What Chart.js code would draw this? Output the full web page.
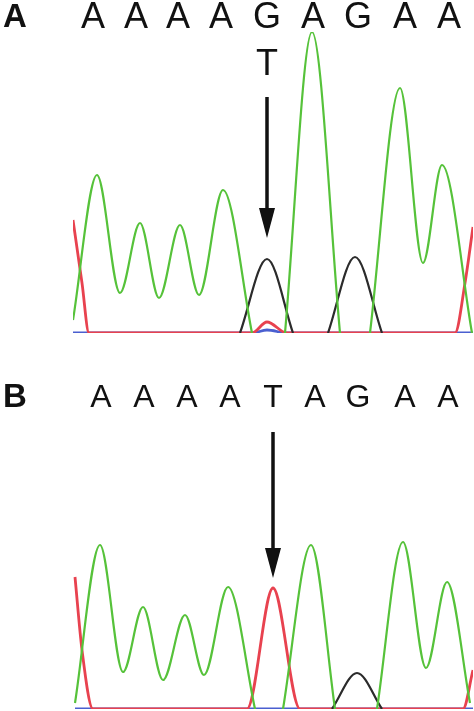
<!DOCTYPE html>
<html>
<head>
<meta charset="utf-8">
<script src="https://cdn.jsdelivr.net/npm/chart.js@4"></script>
<style>
body{margin:0;background:#fff;}
.panel{position:absolute;left:0;width:474px;}
#wrapA{top:0;height:355px;}
#wrapB{top:355px;height:356px;}
</style>
</head>
<body>
<div class="panel" id="wrapA"><canvas id="chartA"></canvas></div>
<div class="panel" id="wrapB"><canvas id="chartB"></canvas></div>
<script>
// panel A - base calls and trace values (scan position / signal)
var basesA = ["A", "A", "A", "A", "G", "A", "G", "A", "A"];
var basePosA = [20, 63, 105, 148, 194, 240, 285, 332, 376];
var greenScanA = [0, 24, 47, 67, 86, 107, 126, 150, 179, 195, 212, 239, 267, 282, 297, 327, 350, 369, 399];
var greenSigA = [13, 158, 40, 110, 35, 108, 38, 143, 0, null, 0, 301, 0, null, 0, 245, 70, 168, 0];
var blackScanA = [167, 194, 220, 240, 255, 282, 309];
var blackSigA = [0, 74, 0, null, 0, 76, 0];
var redScanA = [0, 9, 16, 179, 194, 214, 382, 392, 400];
var redSigA = [113, 50, 0, 0, 11, 0, 0, 50, 106];
var blueScanA = [0, 179, 194, 214, 400];
var blueSigA = [0, 0, 3, 0, 0];

// panel B
var basesB = ["A", "A", "A", "A", "T", "A", "G", "A", "A"];
var basePosB = [28, 71, 114, 157, 200, 242, 285, 332, 375];
var greenScanB = [2, 27, 50, 70, 90, 112, 131, 155, 182, 196, 210, 238, 262, 283, 304, 330, 353, 374, 397];
var greenSigB = [6, 164, 37, 102, 29, 94, 34, 122, 0, null, 0, 164, 0, null, 0, 167, 41, 127, 6];
var blackScanB = [259, 284, 309];
var blackSigB = [0, 36, 0];
var redScanB = [2, 9, 20, 174, 200, 227, 390, 400];
var redSigB = [132, 59, 0, 0, 121, 0, 0, 39];
var blueScanB = [2, 400];
var blueSigB = [0, 0];

function pts(xs, ys) {
  return xs.map(function (x, i) { return {x: x, y: ys[i]}; });
}

function trace(xs, ys, color, w) {
  return {
    data: pts(xs, ys),
    borderColor: color,
    borderWidth: w || 2.2,
    pointRadius: 0,
    cubicInterpolationMode: "monotone",
    spanGaps: false,
    fill: false
  };
}

var basecalls = {
  id: "basecalls",
  afterDatasetsDraw: function (chart, args, o) {
    var ctx = chart.ctx, xs = chart.scales.x;
    ctx.save();
    ctx.fillStyle = "#111";
    ctx.strokeStyle = "#111";
    ctx.textAlign = "center";
    ctx.font = "bold " + o.labelSize + "px 'Liberation Sans', Arial, sans-serif";
    ctx.fillText(o.panel, 15, o.labelY);
    ctx.font = o.size + "px 'Liberation Sans', Arial, sans-serif";
    o.bases.forEach(function (b, i) {
      ctx.fillText(b, xs.getPixelForValue(o.pos[i]), o.baseY);
    });
    var ax = xs.getPixelForValue(o.pos[o.mut]);
    if (o.alt) ctx.fillText(o.alt, ax, o.altY);
    ctx.lineWidth = 3.5;
    ctx.beginPath();
    ctx.moveTo(ax, o.arrow[0]);
    ctx.lineTo(ax, o.arrow[1] + 2);
    ctx.stroke();
    ctx.beginPath();
    ctx.moveTo(ax - 8, o.arrow[1]);
    ctx.lineTo(ax + 8, o.arrow[1]);
    ctx.lineTo(ax, o.arrow[2]);
    ctx.closePath();
    ctx.fill();
    ctx.restore();
  }
};

function makeChart(id, sets, ymax, pad, calls) {
  return new Chart(id, {
    type: "line",
    data: {datasets: sets},
    options: {
      responsive: true,
      maintainAspectRatio: false,
      animation: false,
      layout: {padding: pad},
      scales: {
        x: {type: "linear", min: 0, max: 400, display: false},
        y: {min: 0, max: ymax, display: false}
      },
      plugins: {
        legend: {display: false},
        tooltip: {enabled: false},
        basecalls: calls
      }
    },
    plugins: [basecalls]
  });
}

makeChart("chartA", [
  trace(greenScanA, greenSigA, "#56c23a"),
  trace(blackScanA, blackSigA, "#2b2b2b"),
  trace(redScanA, redSigA, "#e8424f", 2.8),
  trace(blueScanA, blueSigA, "#4a5fd0", 2.8)
], 301, {left: 73, right: 1, top: 32, bottom: 22}, {
  panel: "A", labelSize: 33, labelY: 27,
  bases: basesA, pos: basePosA, size: 36, baseY: 28,
  mut: 4, alt: "T", altY: 75,
  arrow: [97, 208, 238]
});

makeChart("chartB", [
  trace(greenScanB, greenSigB, "#56c23a"),
  trace(blackScanB, blackSigB, "#2b2b2b"),
  trace(redScanB, redSigB, "#e8424f", 2.8),
  trace(blueScanB, blueSigB, "#4a5fd0", 2.8)
], 170, {left: 73, right: 1, top: 184, bottom: 2}, {
  panel: "B", labelSize: 33, labelY: 52,
  bases: basesB, pos: basePosB, size: 32, baseY: 52,
  mut: 4, alt: "",
  arrow: [77, 193, 223]
});
</script>
</body>
</html>
